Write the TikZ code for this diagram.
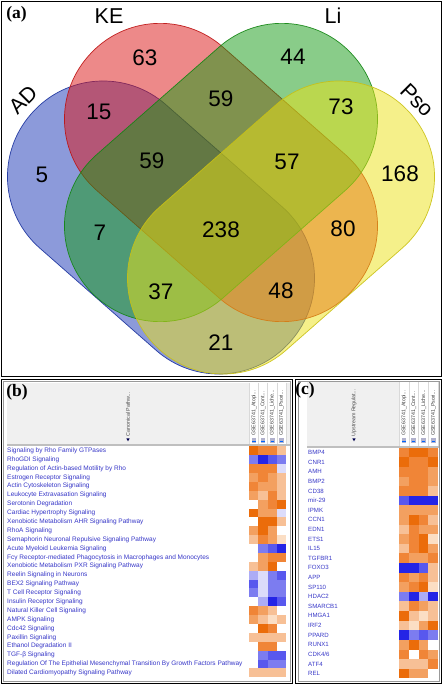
\documentclass[tikz,border=0pt]{standalone}
\usepackage{fontspec}
\setmainfont{Liberation Sans}
\newfontfamily\serifbold{Liberation Serif}
\definecolor{cAD}{RGB}{27,55,183}
\definecolor{cKE}{RGB}{221,20,20}
\definecolor{cLi}{RGB}{20,155,20}
\definecolor{cPso}{RGB}{236,226,22}
\definecolor{O4}{RGB}{235,108,10}
\definecolor{O3}{RGB}{240,133,55}
\definecolor{O2}{RGB}{243,160,96}
\definecolor{O1}{RGB}{247,192,150}
\definecolor{O0}{RGB}{251,222,196}
\definecolor{W}{RGB}{255,255,255}
\definecolor{B0}{RGB}{220,220,250}
\definecolor{B1}{RGB}{172,172,246}
\definecolor{B2}{RGB}{124,124,240}
\definecolor{B3}{RGB}{88,88,238}
\definecolor{B4}{RGB}{36,36,230}
\definecolor{labblue}{RGB}{55,55,200}
\definecolor{hdrgrey}{RGB}{240,240,240}
\tikzset{
  vnum/.style={inner sep=0pt, font=\fontsize{22.5}{22.5}\selectfont},
  vlab/.style={inner sep=0pt, font=\fontsize{21.5}{21.5}\selectfont},
  plab/.style={inner sep=0pt, font=\serifbold\bfseries\fontsize{17.5}{17.5}\selectfont},
  rowb/.style={inner sep=0pt, anchor=west, text=labblue, font=\fontsize{6.5}{6.5}\selectfont},
  rowc/.style={inner sep=0pt, anchor=west, text=labblue, font=\fontsize{6.1}{6.1}\selectfont},
  colhdr/.style={inner sep=0pt, anchor=west, rotate=90, text=black!75, font=\fontsize{5.3}{5.3}\selectfont},
  mainhdr/.style={inner sep=0pt, anchor=west, rotate=90, text=black!70, font=\fontsize{5.3}{5.3}\selectfont},
  frame/.style={draw=black, line width=0.9pt},
  innerframe/.style={draw=black!40, line width=0.5pt},
  vedge/.style={line width=0.7pt, draw opacity=0.9},
  capsule/.style={rounded corners=95pt}
}
\begin{document}
\begin{tikzpicture}[x=1pt,y=-1pt]
\useasboundingbox (0,0) rectangle (443,685);
\fill[white] (0,0) rectangle (443,685);

% ---------------- panel (a) ----------------
\begin{scope}
\clip (1.5,1.5) rectangle (441,376);
\foreach \cx/\cy/\ang/\col/\hl in {161/227.5/-41.3/cAD/172.5, 221/172.5/-41.3/cKE/176.5, 221/172.5/41.3/cLi/176.5, 281/227.5/41.3/cPso/172.5} {
  \fill[\col, fill opacity=0.5, capsule, rotate around={\ang:(\cx,\cy)}] (\cx-\hl,\cy-95.5) rectangle (\cx+\hl,\cy+95.5);
  \draw[vedge, \col!85!black, capsule, rotate around={\ang:(\cx,\cy)}] (\cx-\hl,\cy-95.5) rectangle (\cx+\hl,\cy+95.5);
}
\end{scope}
\draw[frame] (1,1) rectangle (441.5,376.5);
\node[plab] (la) at (16.5,14) {(a)};
\node[vlab] (KE) at (109,16) {KE};
\node[vlab] (Li) at (333,16) {Li};
\node[vlab, rotate=45] (AD) at (23,100) {AD};
\node[vlab, rotate=-45] (Pso) at (417,100) {Pso};
\foreach \x/\y/\t [count=\k] in {145/58/63, 293/57/44, 99/112/15, 221/99/59, 341/107/73, 42/175/5, 152/161/59, 287/162/57, 400/174/168, 100/233/7, 221/230/238, 343/229/80, 161/292/37, 281/291/48, 221/343/21} {
  \node[vnum] (n\k) at (\x,\y) {\t};
}

% ---------------- panel (b) ----------------
\fill[hdrgrey] (7,382.5) rectangle (290,445);
\fill[white] (249.3,382.5) rectangle (286.5,444);
\foreach \j in {0,...,4} { \draw[black!15, line width=0.4pt] (249.3+9.18*\j,382.5) -- (249.3+9.18*\j,444); }
\fill[black!25] (7,444) rectangle (290,446.3);
\draw[frame] (1,379) rectangle (292.5,683.5);
\draw[innerframe] (3.5,381.3) rectangle (290,681.3);
\node[plab] (lb) at (17,392.5) {(b)};
\node[mainhdr] (hb) at (128,436.5) {Canonical Pathw...};
\fill[black!70!blue] (126.3,438.3) -- (129.7,438.3) -- (128,441.3) -- cycle;
\foreach \t [count=\j from 0] in {Atopi,Cont,Liche,Psori} {
  \node[colhdr] (cb\j) at (253.9+9.18*\j,436) {GSE63741\_\t...};
  \fill[blue!35!black!30] (251.7+9.18*\j,437.5) rectangle ++(4.6,5);
  \fill[blue!60!cyan] (252.3+9.18*\j,440.5) rectangle ++(3.4,1.5);
}
\foreach \lab [count=\i from 0] in {Signaling by Rho Family GTPases, RhoGDI Signaling, Regulation of Actin-based Motility by Rho, Estrogen Receptor Signaling, Actin Cytoskeleton Signaling, Leukocyte Extravasation Signaling, Serotonin Degradation, Cardiac Hypertrophy Signaling, Xenobiotic Metabolism AHR Signaling Pathway, RhoA Signaling, Semaphorin Neuronal Repulsive Signaling Pathway, Acute Myeloid Leukemia Signaling, Fcγ Receptor-mediated Phagocytosis in Macrophages and Monocytes, Xenobiotic Metabolism PXR Signaling Pathway, Reelin Signaling in Neurons, BEX2 Signaling Pathway, T Cell Receptor Signaling, Insulin Receptor Signaling, Natural Killer Cell Signaling, AMPK Signaling, Cdc42 Signaling, Paxillin Signaling, Ethanol Degradation II, TGF-β Signaling, Regulation Of The Epithelial Mesenchymal Transition By Growth Factors Pathway, Dilated Cardiomyopathy Signaling Pathway} {
  \node[rowb] (rb\i) at (7,446.3+8.885*\i+4.44) {\lab};
}
\foreach \row [count=\i from 0] in {{O4,O3,O3,O1},{B2,B4,B3,B2},{O3,O3,O3,B0},{O2,O3,O2,O1},{O3,O2,O2,O1},{O2,O1,O3,O1},{W,O2,O3,O4},{O4,O2,O2,B0},{W,O4,O4,O1},{O2,O4,O2,W},{O1,O3,O2,O0},{W,B2,B3,B4},{W,O2,O3,O3},{O1,O2,O4,W},{B1,B0,B2,B3},{B3,B0,B2,B2},{B2,B0,B2,B2},{W,B1,B4,B3},{O3,O2,O1,W},{O2,O1,O0,O1},{W,O4,O3,W},{O1,O1,O1,O1},{W,O3,O3,W},{W,B2,B3,B3},{W,B3,B2,B2},{O1,O1,O1,O1}} {
  \foreach \c [count=\j from 0] in \row {
    \fill[\c] (249.3+9.18*\j,446.3+8.885*\i) rectangle ++(9.3,9.0);
  }
}

% ---------------- panel (c) ----------------
\fill[hdrgrey] (306.5,382) rectangle (439,446);
\fill[white] (399,382) rectangle (438.3,445.5);
\foreach \j in {0,...,4} { \draw[black!15, line width=0.4pt] (399+9.82*\j,382) -- (399+9.82*\j,445.5); }
\fill[black!25] (306.5,445.5) rectangle (439,447.7);
\draw[frame] (295.5,379) rectangle (441.5,683);
\draw[innerframe] (298,381.3) rectangle (439.3,680.8);
\node[plab] (lc) at (305,390.5) {(c)};
\node[mainhdr] (hc) at (354,436.5) {Upstream Regulat...};
\fill[black!70!blue] (352.3,438.3) -- (355.7,438.3) -- (354,441.3) -- cycle;
\foreach \t [count=\j from 0] in {Atopi,Cont,Liche,Psori} {
  \node[colhdr] (cc\j) at (404+9.82*\j,436) {GSE63741\_\t...};
  \fill[blue!35!black!30] (401.6+9.82*\j,437.5) rectangle ++(4.6,5);
  \fill[blue!60!cyan] (402.2+9.82*\j,440.5) rectangle ++(3.4,1.5);
}
\foreach \lab [count=\i from 0] in {BMP4, CNR1, AMH, BMP2, CD38, mir-29, IPMK, CCN1, EDN1, ETS1, IL15, TGFBR1, FOXO3, APP, SP110, HDAC2, SMARCB1, HMGA1, IRF2, PPARD, RUNX1, CDK4/6, ATF4, REL} {
  \node[rowc] (rc\i) at (308,447.7+9.61*\i+4.8) {\lab};
}
\foreach \row [count=\i from 0] in {{O3,O4,O4,O3},{O4,O3,O3,O4},{O3,O3,O3,O2},{O2,O3,O3,O2},{O3,O3,O3,O1},{B3,B4,B4,B4},{O2,O2,O2,O2},{O2,O4,O3,O1},{O1,O3,O2,O2},{O2,O3,O4,O0},{O1,O3,O4,O2},{O3,O2,O2,O3},{B4,B4,B3,O1},{O3,O2,O3,O1},{O2,O3,O4,O0},{B2,B4,B1,B4},{O1,O3,O2,O1},{O4,O1,O0,O1},{O1,O0,O2,O4},{B4,B2,B3,B2},{O2,O4,O2,W},{O3,W,O3,O2},{O1,O1,O1,O3},{O4,O2,O2,W}} {
  \foreach \c [count=\j from 0] in \row {
    \fill[\c] (399+9.82*\j,447.7+9.61*\i) rectangle ++(9.9,9.7);
  }
}
\end{tikzpicture}
\end{document}
